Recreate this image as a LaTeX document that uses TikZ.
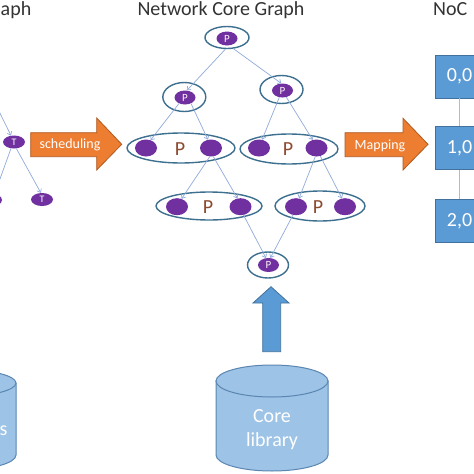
\documentclass[tikz,border=0pt]{standalone}
\usepackage{fontspec}
\setmainfont{Carlito}
\usetikzlibrary{shapes.geometric,arrows.meta}
\definecolor{purp}{HTML}{7030A0}
\definecolor{ringc}{HTML}{3D6F8F}
\definecolor{edgec}{HTML}{8FAADC}
\definecolor{orangef}{HTML}{ED7D31}
\definecolor{orangeb}{HTML}{AE5A21}
\definecolor{boxf}{HTML}{5B9BD5}
\definecolor{boxb}{HTML}{41719C}
\definecolor{cylf}{HTML}{9DC3E6}
\definecolor{cylb}{HTML}{5A86B2}
\definecolor{brownp}{HTML}{8C4A2F}
\definecolor{linkc}{HTML}{A9BED6}
\begin{document}
\begin{tikzpicture}[x=1pt,y=-1pt,
  tnode/.style={ellipse, fill=purp, inner sep=0pt, minimum width=22pt, minimum height=13pt, text=white, font=\fontsize{10}{10}\selectfont},
  pin/.style={ellipse, fill=purp, inner sep=0pt, minimum width=21pt, minimum height=14pt, text=white!85!pink, font=\fontsize{11}{11}\selectfont},
  dotn/.style={ellipse, fill=purp, inner sep=0pt, minimum width=22pt, minimum height=17pt},
  ring/.style={ellipse, draw=ringc, line width=1.4pt, inner sep=0pt},
  bigp/.style={text=brownp, font=\fontsize{20}{20}\selectfont, inner sep=0pt},
  edge/.style={draw=edgec, line width=0.7pt, -{Straight Barb[length=3pt,width=5pt]}},
  title/.style={font=\fontsize{20}{20}\selectfont, text=black!80, inner sep=0pt},
  fatarrow/.style={fill=orangef, draw=orangeb, line width=0.8pt},
  arrowtext/.style={text=white, font=\fontsize{14}{14}\selectfont, inner sep=0pt},
  nocbox/.style={rectangle, fill=boxf, draw=boxb, line width=0.8pt, minimum width=49pt, minimum height=43pt, inner sep=0pt, text=white, font=\fontsize{20}{20}\selectfont},
  cyl/.style={fill=cylf, draw=cylb, line width=1pt},
  cyltext/.style={text=white, font=\fontsize{20}{20}\selectfont, inner sep=0pt, align=center}
]
\useasboundingbox (0,0) rectangle (474,474);
\clip (0,0) rectangle (474,474);
\fill[white] (0,0) rectangle (474,474);

% titles
\node[title, anchor=base west] (tleft) at (0.5,15) {aph};
\node[title, anchor=base] (tcore) at (221,15) {Network Core Graph};
\node[title, anchor=base west] (tnoc) at (433,15) {NoC};

% ---- left task graph (partial)
\coordinate (lin) at (-8,97);
\node[tnode] (t1) at (14,142) {T};
\node[tnode] (t2) at (42,199.5) {T};
\node[tnode] (t3) at (-9,200) {};
\draw[edge] (lin) -- (t1.115);
\draw[edge] (t1.245) -- (t3.60);
\draw[edge] (t1.290) -- (t2.100);

% ---- scheduling arrow
\draw[fatarrow] (30.7,132.7) -- (96.7,132.7) -- (96.7,118) -- (121.7,144.3) -- (96.7,170) -- (96.7,156.7) -- (30.7,156.7) -- cycle;
\node[arrowtext] (sched) at (70,145) {scheduling};

% ---- mapping arrow
\draw[fatarrow] (345,132.7) -- (403,132.7) -- (403,118.3) -- (428,144.3) -- (403,170) -- (403,156.7) -- (345,156.7) -- cycle;
\node[arrowtext] (mapp) at (380,145.5) {Mapping};

% ---- network core graph
\node[ring, minimum width=44pt, minimum height=22pt] (pa) at (227,37.5) {};
\node[pin] (pai) at (227,38.5) {P};
\node[ring, minimum width=43pt, minimum height=29pt] (pb) at (184.3,97) {};
\node[pin] (pbi) at (185,97.5) {P};
\node[ring, minimum width=43pt, minimum height=28pt] (pc) at (281.5,89.5) {};
\node[pin] (pci) at (282.5,90.5) {P};

\node[ring, minimum width=108pt, minimum height=30pt] (big1) at (181,148) {};
\node[dotn] (d1) at (146,148) {};
\node[dotn] (d2) at (211,148) {};
\node[bigp] (p1) at (180,149) {P};

\node[ring, minimum width=98pt, minimum height=30pt] (big2) at (289,149) {};
\node[dotn] (d3) at (259,148) {};
\node[dotn] (d4) at (316.5,148) {};
\node[bigp] (p2) at (288,149) {P};

\node[ring, minimum width=106pt, minimum height=28pt] (big3) at (209,206) {};
\node[dotn] (d5) at (177,206.7) {};
\node[dotn] (d6) at (240.5,206.7) {};
\node[bigp] (p3) at (208,207) {P};

\node[ring, minimum width=90pt, minimum height=30pt] (big4) at (320,206) {};
\node[dotn] (d7) at (296,206.7) {};
\node[dotn] (d8) at (345,206.7) {};
\node[bigp] (p4) at (318,207) {P};

\node[ring, minimum width=41pt, minimum height=26pt] (pd) at (268,265) {};
\node[pin] (pdi) at (268.5,265) {P};

\draw[edge] (pa.262) -- (pbi.75);
\draw[edge] (pa.300) -- (pci.100);
\draw[edge] (pbi.225) -- (d1.60);
\draw[edge] (pbi.315) -- (d2.110);
\draw[edge] (pci.245) -- (d3.70);
\draw[edge] (pci.300) -- (d4.115);
\draw[edge] (d2.262) -- (d5.60);
\draw[edge] (d2.285) -- (d6.110);
\draw[edge] (d4.262) -- (d7.70);
\draw[edge] (d4.295) -- (d8.110);
\draw[edge] (d6.290) -- (pdi.110);
\draw[edge] (d7.250) -- (pdi.75);

% ---- up arrow from core library
\fill[boxf, draw=boxb, line width=0.8pt] (262.7,351.7) -- (262.7,303) -- (253,303) -- (271,286.7) -- (289,303) -- (280.7,303) -- (280.7,351.7) -- cycle;

% ---- core library cylinder
\filldraw[cyl] (216,381) -- (216,455) arc[start angle=180, end angle=0, x radius=56, y radius=16] -- (328,381) -- cycle;
\filldraw[cyl] (272,381) ellipse[x radius=56, y radius=16];
\node[cyltext] (corelib) at (272,430) {Core\\[4pt]library};

% ---- left cylinder (partial)
\filldraw[cyl] (-96,383) -- (-96,455) arc[start angle=180, end angle=0, x radius=56, y radius=15] -- (16,383) -- cycle;
\filldraw[cyl] (-40,383) ellipse[x radius=56, y radius=13.5];
\node[cyltext] (lefts) at (3.5,431) {s};

% ---- NoC column
\node[nocbox] (n00) at (459.5,76.5) {0,0};
\node[nocbox] (n10) at (459.5,148.3) {1,0};
\node[nocbox] (n20) at (459.5,221) {2,0};
\draw[linkc, line width=0.8pt] (n00.south) -- (n10.north);
\draw[linkc, line width=0.8pt] (n10.south) -- (n20.north);
\end{tikzpicture}
\end{document}
